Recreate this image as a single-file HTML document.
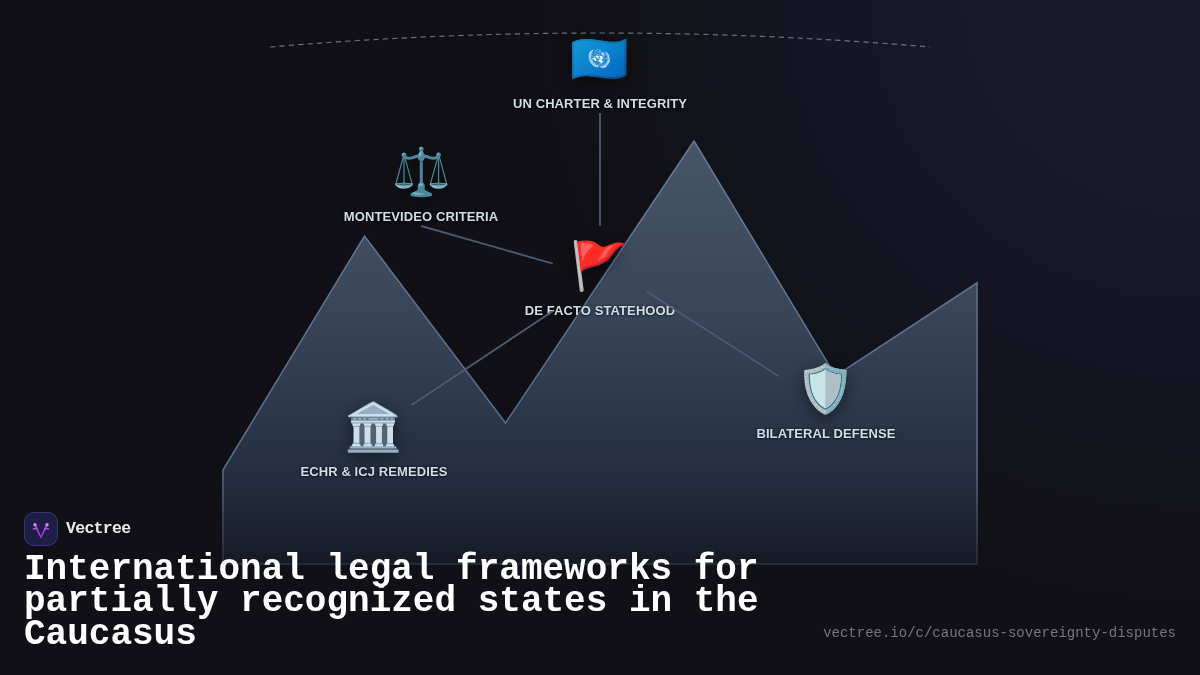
<!DOCTYPE html>
<html><head><meta charset="utf-8">
<style>
html,body{margin:0;padding:0;}
body{will-change:transform;width:1200px;height:675px;overflow:hidden;position:relative;
  background:#101016;
  font-family:"Liberation Sans", sans-serif;}
.bg{position:absolute;left:0;top:0;width:1200px;height:675px;
  background:radial-gradient(ellipse 660px 600px at 1200px 0px, #18182c 0%, #18182b 34%, #161627 50%, #141421 66%, #121219 83%, #101016 100%);}
svg.main{position:absolute;left:0;top:0;}
.node{position:absolute;width:300px;margin-left:-150px;text-align:center;}
.emo{font-family:"Liberation Sans", sans-serif;position:relative;left:-1px;font-size:47px;line-height:56px;height:56px;margin-top:1px;
  filter:drop-shadow(0 4px 8px rgba(0,0,0,0.45));}
.lbl{font-family:"Liberation Sans", sans-serif;font-weight:bold;font-size:13px;color:#d3dce8;
  letter-spacing:0.1px;margin-top:9px;text-shadow:0 0 3px rgba(0,0,0,0.55),0 1px 2px rgba(0,0,0,0.4);white-space:nowrap;}
.brand{position:absolute;left:24px;top:512px;height:34px;display:flex;align-items:center;}
.logo{width:34px;height:34px;border-radius:10px;background:#1e1e44;border:1px solid #38357a;box-sizing:border-box;position:relative;}
.bname{font-family:"Liberation Mono", monospace;font-weight:bold;font-size:16.5px;letter-spacing:-0.7px;color:#ebebef;margin-left:8px;position:relative;top:-1px;}
.title{position:absolute;left:24px;top:554px;font-family:"Liberation Mono", monospace;font-weight:bold;font-size:36px;line-height:32.4px;color:#ffffff;white-space:nowrap;}
.url{position:absolute;right:24px;top:625px;font-family:"Liberation Mono", monospace;font-size:14px;color:#76767f;}
</style></head>
<body>
<div class="bg"></div>
<svg class="main" width="1200" height="675" viewBox="0 0 1200 675">
  <defs>
    <linearGradient id="mfill" x1="0" y1="141" x2="0" y2="564" gradientUnits="userSpaceOnUse">
      <stop offset="0" stop-color="#475569"/>
      <stop offset="0.376" stop-color="#3a475b"/>
      <stop offset="0.66" stop-color="#2b3649"/>
      <stop offset="0.80" stop-color="#242d3f"/>
      <stop offset="0.896" stop-color="#1e2534"/>
      <stop offset="1" stop-color="#151924"/>
    </linearGradient>
    <linearGradient id="mstroke" x1="0" y1="141" x2="0" y2="564" gradientUnits="userSpaceOnUse">
      <stop offset="0" stop-color="#667893"/>
      <stop offset="0.78" stop-color="#5b6c86"/>
      <stop offset="1" stop-color="#2a313e"/>
    </linearGradient>
  </defs>
  <path d="M270,47 Q600,19 930,47" fill="none" stroke="#a3a8b3" stroke-opacity="0.62" stroke-width="1.2" stroke-dasharray="5.2 4.23"/>
  <path d="M223,470 L364.5,236 L505.5,423 L694,141 L835.5,376 L977,283 L977,564 L223,564 Z" fill="url(#mfill)" stroke="url(#mstroke)" stroke-width="1.5" stroke-linejoin="miter"/>
</svg>

<div class="node" style="left:600px;top:30px;"><div class="emo">🇺🇳</div><div class="lbl">UN CHARTER &amp; INTEGRITY</div></div>
<div class="node" style="left:421px;top:143px;"><div class="emo" style="left:0px">⚖️</div><div class="lbl">MONTEVIDEO CRITERIA</div></div>
<div class="node" style="left:600px;top:237px;"><div class="emo">🚩</div><div class="lbl">DE FACTO STATEHOOD</div></div>
<div class="node" style="left:374px;top:398px;"><div class="emo">🏛️</div><div class="lbl">ECHR &amp; ICJ REMEDIES</div></div>
<div class="node" style="left:826px;top:360px;"><div class="emo">🛡️</div><div class="lbl">BILATERAL DEFENSE</div></div>

<svg class="main" width="1200" height="675" viewBox="0 0 1200 675" style="pointer-events:none">
  <g stroke="#4d5b70" stroke-width="1.85" stroke-linecap="butt" fill="none">
    <line x1="600" y1="113" x2="600" y2="226"/>
    <line x1="421.2" y1="226" x2="552.7" y2="263.6"/>
    <line x1="411.6" y1="405" x2="553" y2="311"/>
    <line x1="647.1" y1="291.7" x2="778.7" y2="376.2"/>
  </g>
</svg>

<div class="brand"><div class="logo">
  <svg width="34" height="34" viewBox="0 0 34 34" style="position:absolute;left:-1px;top:-1px">
    <defs><linearGradient id="lg" x1="0" y1="12" x2="0" y2="26" gradientUnits="userSpaceOnUse"><stop offset="0" stop-color="#c65cf2"/><stop offset="1" stop-color="#9233d6"/></linearGradient></defs>
    <g stroke="url(#lg)" stroke-width="1.5" fill="none" stroke-linecap="round" stroke-linejoin="round">
      <path d="M11.2,13 L16.9,25.5 L22.8,13"/>
      <path d="M12.9,16.6 L9.4,16.9"/>
      <path d="M21.1,16.6 L24.6,16.9"/>
    </g>
    <circle cx="11" cy="12.8" r="1.7" fill="#d78af5"/>
    <circle cx="23" cy="12.8" r="1.7" fill="#d78af5"/>
  </svg>
</div><div class="bname">Vectree</div></div>

<div class="title">International legal frameworks for<br>partially recognized states in the<br>Caucasus</div>
<div class="url">vectree.io/c/caucasus-sovereignty-disputes</div>
</body></html>
